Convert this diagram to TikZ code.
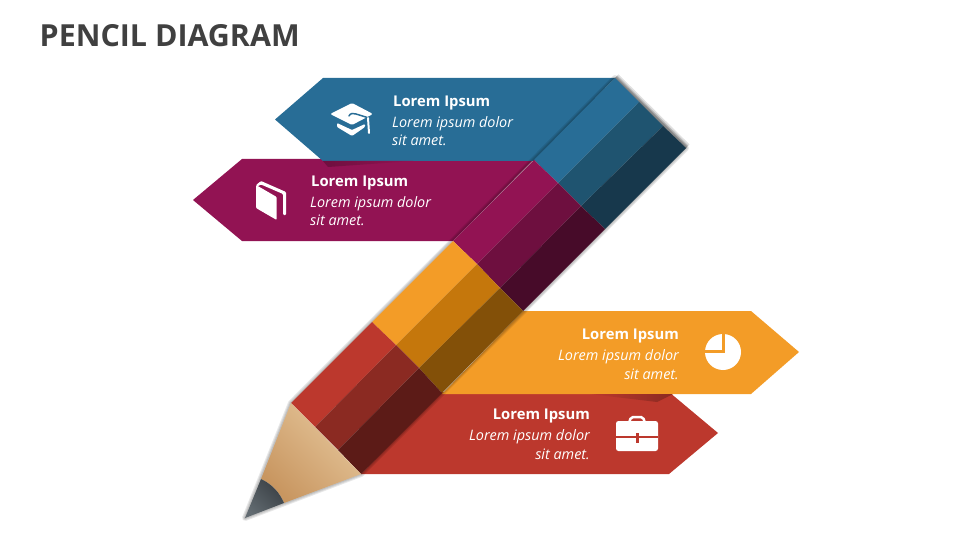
\documentclass[tikz,border=0pt]{standalone}
\usepackage{fontspec}
\setmainfont{Open Sans}
\definecolor{bluea}{HTML}{286D96}
\definecolor{blueb}{HTML}{1F5470}
\definecolor{bluec}{HTML}{17384C}
\definecolor{pinka}{HTML}{921353}
\definecolor{pinkb}{HTML}{6E0F3F}
\definecolor{pinkc}{HTML}{470B29}
\definecolor{orangea}{HTML}{F39C27}
\definecolor{orangeb}{HTML}{C5770C}
\definecolor{orangec}{HTML}{835008}
\definecolor{reda}{HTML}{BC382D}
\definecolor{redb}{HTML}{8B2A22}
\definecolor{redc}{HTML}{5C1B17}
\definecolor{wooda}{HTML}{E5C59A}
\definecolor{woodb}{HTML}{C89660}
\definecolor{leada}{HTML}{3A4045}
\definecolor{leadb}{HTML}{626B71}
\tikzset{
	head_text/.style={text=white, inner sep=0pt, font=\fontsize{14.8}{18}\selectfont\bfseries},
	body_text/.style={text=white, inner sep=0pt, font=\fontsize{14.4}{18}\selectfont\itshape},
	icon/.style={fill=white, draw=none}
}

\begin{document}
\begin{tikzpicture}[x=1pt, y=-1pt]
		\useasboundingbox (0, 0) rectangle (960, 540);

		\node[anchor=base west, inner sep=0pt, text=black!75, font=\fontsize{30.4}{36}\selectfont\bfseries] (title) at (39.5, 46.5) {PENCIL DIAGRAM};

		% arrows behind the pencil
		\fill[reda] (440, 392) -- (669, 392) -- (718, 433) -- (669, 474) -- (361, 474) -- cycle;
		\fill[orangea] (523, 311) -- (751, 311) -- (799, 352) -- (751, 394) -- (442, 394) -- cycle;
		\shade[left color=reda, right color=redb] (590, 394) -- (673, 394) -- (657, 402) -- cycle;

		\fill[pinka] (534, 159) -- (242, 159) -- (193, 200) -- (242, 241) -- (453, 241) -- cycle;
		\fill[bluea] (615, 78) -- (323, 78) -- (275, 119.5) -- (323, 161) -- (534, 161) -- cycle;
		\shade[left color=pinkb, right color=pinka] (323, 161) -- (413, 161) -- (328, 167) -- cycle;

		% pencil rows, each with its four corners
		\foreach \r/\xa/\ya/\xb/\yb/\xc/\yc/\xd/\yd in {
			e/615/78/639/102/663/126/686/148,
			p/534/160/558/183/581/206/605/229,
			o/453/241/477/264/500/288/523/311,
			d/372/322/396/345/419/368/442/393,
			w/291/403/315/427/338/450/361/474}{
			\coordinate (\r1) at (\xa, \ya);
			\coordinate (\r2) at (\xb, \yb);
			\coordinate (\r3) at (\xc, \yc);
			\coordinate (\r4) at (\xd, \yd);
		}
		\coordinate (tip) at (245, 518);
		\coordinate (lead_a) at (261, 479);
		\coordinate (lead_b) at (284, 503);

		% soft shadow
		\foreach \w in {6, 4, 2}{
			\draw[black, opacity=.09, line width=\w, line join=round] (e1) -- (w1) -- (tip) -- (w4) -- (e4) -- cycle;
		}
		\foreach \w in {10, 7, 4}{
			\draw[black, opacity=.12, line width=\w] (e1) -- (e4);
		}

		\foreach \a/\b/\ca/\cb/\cc in {
			e/p/bluea/blueb/bluec,
			p/o/pinka/pinkb/pinkc,
			o/d/orangea/orangeb/orangec,
			d/w/reda/redb/redc}{
			\fill[\ca] (\a1) -- (\a2) -- (\b2) -- (\b1) -- cycle;
			\fill[\cb] (\a2) -- (\a3) -- (\b3) -- (\b2) -- cycle;
			\fill[\cc] (\a3) -- (\a4) -- (\b4) -- (\b3) -- cycle;
		}

		\shade[left color=wooda, right color=woodb, shading angle=-45] (w1) -- (w4) -- (lead_b) .. controls (280, 493) and (272, 484) .. (lead_a) -- cycle;
		\shade[left color=leada, right color=leadb, shading angle=-45] (lead_a) .. controls (272, 484) and (280, 493) .. (lead_b) -- (tip) -- cycle;

		% graduation cap
		\fill[icon, rounded corners=1.5] (330, 114) -- (352, 103) -- (373, 114) -- (352, 125) -- cycle;
		\fill[icon, rounded corners=1] (337, 123) -- (352, 130) -- (365, 124) -- (365, 127) -- (352, 136) -- (337, 127) -- cycle;
		\draw[bluea, line width=1.5, line cap=round] (349, 116) .. controls (350, 113) and (354, 113) .. (356, 114) -- (369, 118);
		\draw[white, line width=2, line cap=round] (368, 118) -- (369, 133);
		\node[head_text, anchor=base west] (blue_head) at (393, 106.5) {Lorem Ipsum};
		\node[body_text, anchor=base west] (blue_line_a) at (392, 127.5) {Lorem ipsum dolor};
		\node[body_text, anchor=base west] (blue_line_b) at (392, 146) {sit amet.};

		% book
		\fill[icon, rounded corners=1] (256, 185) -- (276.7, 197) -- (276.7, 220) -- (256, 208) -- cycle;
		\fill[icon, rounded corners=1] (256, 185) -- (261, 181) -- (286, 192) -- (286, 215) -- (283, 215) -- (283, 194) -- (261, 184.5) -- (257, 186.5) -- cycle;
		\node[head_text, anchor=base west] (pink_head) at (311, 186.5) {Lorem Ipsum};
		\node[body_text, anchor=base west] (pink_line_a) at (310, 207) {Lorem ipsum dolor};
		\node[body_text, anchor=base west] (pink_line_b) at (310, 225.5) {sit amet.};

		% pie chart
		\fill[icon] (723, 352) circle (18);
		\draw[orangea, line width=3, line cap=rect] (723, 333) -- (723, 351) -- (704, 351);
		\node[head_text, anchor=base east] (orange_head) at (679, 339) {Lorem Ipsum};
		\node[body_text, anchor=base east] (orange_line_a) at (679, 360) {Lorem ipsum dolor};
		\node[body_text, anchor=base east] (orange_line_b) at (679, 379) {sit amet.};

		% briefcase
		\fill[icon, rounded corners=2.5] (616, 421) rectangle (658, 451);
		\draw[white, line width=2.5, rounded corners=2] (629, 423) -- (631, 417) -- (643, 417) -- (645, 423);
		\draw[reda, line width=1.8] (616, 437) -- (658, 437);
		\draw[reda, line width=3] (637, 433) -- (637, 443);
		\node[head_text, anchor=base east] (red_head) at (590, 419) {Lorem Ipsum};
		\node[body_text, anchor=base east] (red_line_a) at (590, 440) {Lorem ipsum dolor};
		\node[body_text, anchor=base east] (red_line_b) at (590, 459) {sit amet.};
\end{tikzpicture}
\end{document}
